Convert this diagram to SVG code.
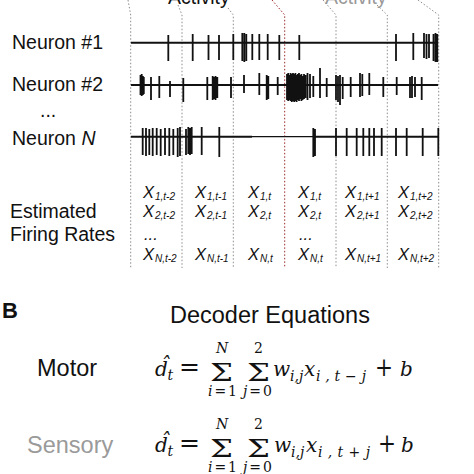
<svg xmlns="http://www.w3.org/2000/svg" width="474" height="474" viewBox="0 0 474 474">
<style>
.lbl{font-family:"Liberation Sans",Arial,sans-serif;font-size:19.5px;fill:#111}
.big{font-family:"Liberation Sans",Arial,sans-serif;font-size:23.5px;fill:#111}
.grey{fill:#9a9a9a}
.gridg{stroke:#8c8c8c;stroke-width:1;stroke-dasharray:1.5 2;fill:none}
.gridr{stroke:#9b2a2a;stroke-width:1;stroke-dasharray:1.5 2;fill:none}
.base{stroke:#111;stroke-width:2;fill:none}
.spk{stroke:#111;stroke-width:1.8;fill:none}
.X{font-family:"Liberation Sans",Arial,sans-serif;font-style:italic;font-size:16.5px;fill:#111}
.sub{font-family:"Liberation Sans",Arial,sans-serif;font-style:italic;font-size:10px;fill:#111}
.m{font-family:"DejaVu Serif",serif;font-style:italic;font-size:20px;fill:#111}
.ms{font-family:"DejaVu Serif",serif;font-style:italic;font-size:14px;fill:#111}
.mr{font-family:"DejaVu Serif",serif;font-style:normal;font-size:14px;fill:#111}
.op{font-family:"DejaVu Serif",serif;font-size:26px;fill:#111}
.sig{font-family:"DejaVu Serif",serif;font-size:25px;fill:#111}
</style>

<g id="header">
  <text class="lbl" x="168" y="3.5">Activity</text>
  <text class="lbl grey" x="325" y="3.5">Activity</text>
</g>

<g id="connectors">
  <polyline class="gridg" points="128,0 130.7,15 130.7,268"/>
  <polyline class="gridg" points="178,5 182,15 182,268"/>
  <polyline class="gridg" points="228,8 233.3,15 233.3,268"/>
  <polyline class="gridr" points="272,0 284.7,15 284.7,268"/>
  <polyline class="gridg" points="323,0 336,15 336,268"/>
  <polyline class="gridg" points="377,5 387.3,15 387.3,268"/>
  <polyline class="gridg" points="418,0 438.7,15 438.7,268"/>
</g>

<g id="neuron1">
  <text class="lbl" x="12" y="49">Neuron #1</text>
  <line class="base" x1="131" y1="42.7" x2="438" y2="42.7"/>
  <path class="spk" d="M168.3 35V61M192.7 34V61M208.5 35V60M219 35V60M233.3 34V60M242.3 33V61M244.3 33V62M246.3 34V61M252.3 34V60M259.3 34V60M267.7 34V60M279.3 35V60M299.3 35V60M396 34V61M413.3 33V60M424 33V58M426.5 34V59M429 34V58M433.5 34V61M435.5 33V62M437.3 34V62"/>
</g>

<g id="neuron2">
  <text class="lbl" x="12" y="91">Neuron #2</text>
  <line class="base" x1="131" y1="85" x2="438" y2="85"/>
  <path class="spk" d="M140.5 75V95M141.7 74V96M142.9 76V95M143.8 77V94M151 77V100M159.3 76V98M170 81V97M183.3 78V102M207.3 77V100M212.7 76V100M214 77V99M215.5 76V100M217.3 77V98M231 77V98M244 75V93M259.3 73V95M266.7 75V100M268.3 76V99M277.7 77V95M287 74V100M288.2 73V101M289.4 75V100M290.6 73V101M291.8 74V102M293 73V101M294.2 74V102M295.4 73V101M296.6 75V102M297.8 74V100M299 73V101M300.2 75V99M301.4 74V101M302.6 76V100M304 74V99M305.5 75V98M307.5 73V100M310 74V98M313.3 76V97M320 68V98M326.7 78V97M336 75V100M338 76V102M340 75V105M342.7 77V99M350.7 77V97M360 73V97M362.3 74V96M369.3 73V95M383.3 77V97M396.7 77V95M410 77V98M412 76V98M415 77V97M421.7 77V100"/>
</g>

<g id="ellipsis-neurons">
  <text class="lbl" x="40" y="117">...</text>
</g>

<g id="neuronN">
  <text class="lbl" x="12" y="145">Neuron <tspan font-style="italic">N</tspan></text>
  <line class="base" x1="131" y1="136.7" x2="252" y2="136.7"/>
  <line stroke="#111" stroke-width="1.2" x1="252" y1="136.7" x2="313" y2="136.7"/>
  <line class="base" x1="313" y1="136.7" x2="438.5" y2="136.7"/>
  <path class="spk" d="M142.7 128V155M146 128V156M149.3 129V155M152.7 128V156M156.7 128V155M160.7 129V156M165 128V155M169.3 128V156M173.3 129V155M177.7 128V157M180 127V156M186 129V155M188.3 127V154M190 128V155M191.7 127V154M201.7 127V155M219.3 127V157M313.3 128V157M315 129V156M336 128V156M346.7 128V156M356.7 128V156M363.3 128V156M369.3 128V156M374 128V156M381.7 128V156M396 128V156M406.7 128V156M422.7 128V156M438.3 128V156"/>
</g>

<g id="rates-label">
  <text class="lbl" x="10" y="218">Estimated</text>
  <text class="lbl" x="10" y="241">Firing Rates</text>
</g>

<g id="col-t-2">
  <text class="X" x="143" y="198">X</text><text class="sub" x="155" y="200">1,t-2</text>
  <text class="X" x="143" y="217">X</text><text class="sub" x="155" y="219">2,t-2</text>
  <text class="X" x="144" y="240">...</text>
  <text class="X" x="143" y="260">X</text><text class="sub" x="155" y="262">N,t-2</text>
</g>
<g id="col-t-1">
  <text class="X" x="195" y="198">X</text><text class="sub" x="207" y="200">1,t-1</text>
  <text class="X" x="195" y="217">X</text><text class="sub" x="207" y="219">2,t-1</text>
  <text class="X" x="195" y="260">X</text><text class="sub" x="207" y="262">N,t-1</text>
</g>
<g id="col-t">
  <text class="X" x="248" y="198">X</text><text class="sub" x="260" y="200">1,t</text>
  <text class="X" x="248" y="217">X</text><text class="sub" x="260" y="219">2,t</text>
  <text class="X" x="248" y="260">X</text><text class="sub" x="260" y="262">N,t</text>
</g>
<g id="col-t-future">
  <text class="X grey" x="298" y="198">X</text><text class="sub grey" x="310" y="200">1,t</text>
  <text class="X grey" x="298" y="217">X</text><text class="sub grey" x="310" y="219">2,t</text>
  <text class="X grey" x="299" y="240">...</text>
  <text class="X grey" x="298" y="260">X</text><text class="sub grey" x="310" y="262">N,t</text>
</g>
<g id="col-t1">
  <text class="X grey" x="345" y="198">X</text><text class="sub grey" x="357" y="200">1,t+1</text>
  <text class="X grey" x="345" y="217">X</text><text class="sub grey" x="357" y="219">2,t+1</text>
  <text class="X grey" x="345" y="260">X</text><text class="sub grey" x="357" y="262">N,t+1</text>
</g>
<g id="col-t2">
  <text class="X grey" x="398" y="198">X</text><text class="sub grey" x="410" y="200">1,t+2</text>
  <text class="X grey" x="398" y="217">X</text><text class="sub grey" x="410" y="219">2,t+2</text>
  <text class="X grey" x="398" y="260">X</text><text class="sub grey" x="410" y="262">N,t+2</text>
</g>

<g id="panelB">
  <text x="2" y="318" font-family="Liberation Sans,Arial,sans-serif" font-weight="bold" font-size="22" fill="#111">B</text>
  <text class="big" x="170" y="323">Decoder Equations</text>
</g>

<g id="motor">
  <text class="big" x="37" y="376">Motor</text>
  <text class="m" x="155" y="376">d&#x302;</text>
  <text class="ms" x="167.5" y="380">t</text>
  <text class="op" x="179" y="376" textLength="21" lengthAdjust="spacingAndGlyphs">=</text>
  <text class="sig" x="210" y="380.5" textLength="23" lengthAdjust="spacingAndGlyphs">Σ</text>
  <text class="ms" x="216" y="353">N</text>
  <text class="ms" x="208" y="396" textLength="29" lengthAdjust="spacing">i<tspan class="mr">=1</tspan></text>
  <text class="sig" x="247" y="380.5" textLength="23" lengthAdjust="spacingAndGlyphs">Σ</text>
  <text class="mr" x="254" y="353">2</text>
  <text class="ms" x="243" y="396" textLength="29" lengthAdjust="spacing">j<tspan class="mr">=0</tspan></text>
  <text class="m" x="273" y="376">w</text>
  <text class="ms" x="290" y="381">i,j</text>
  <text class="m" x="304" y="376">x</text>
  <text class="ms" x="316" y="381" textLength="50" lengthAdjust="spacing">i,t<tspan class="mr">−</tspan>j</text>
  <text class="op" x="375" y="376" textLength="18" lengthAdjust="spacingAndGlyphs">+</text>
  <text class="m" x="400" y="376">b</text>
</g>

<g id="sensory">
  <text class="big grey" x="27" y="453">Sensory</text>
  <text class="m" x="155" y="452">d&#x302;</text>
  <text class="ms" x="167.5" y="456">t</text>
  <text class="op" x="179" y="452" textLength="21" lengthAdjust="spacingAndGlyphs">=</text>
  <text class="sig" x="210" y="456.5" textLength="23" lengthAdjust="spacingAndGlyphs">Σ</text>
  <text class="ms" x="216" y="429">N</text>
  <text class="ms" x="208" y="472" textLength="29" lengthAdjust="spacing">i<tspan class="mr">=1</tspan></text>
  <text class="sig" x="247" y="456.5" textLength="23" lengthAdjust="spacingAndGlyphs">Σ</text>
  <text class="mr" x="254" y="429">2</text>
  <text class="ms" x="243" y="472" textLength="29" lengthAdjust="spacing">j<tspan class="mr">=0</tspan></text>
  <text class="m" x="274" y="452">w</text>
  <text class="ms" x="291" y="457">i,j</text>
  <text class="m grey" x="306" y="452">x</text>
  <text class="ms grey" x="318" y="457" textLength="52" lengthAdjust="spacing">i,t<tspan class="mr grey">+</tspan>j</text>
  <text class="op" x="378" y="452" textLength="18" lengthAdjust="spacingAndGlyphs">+</text>
  <text class="m" x="401" y="452">b</text>
</g>
</svg>
